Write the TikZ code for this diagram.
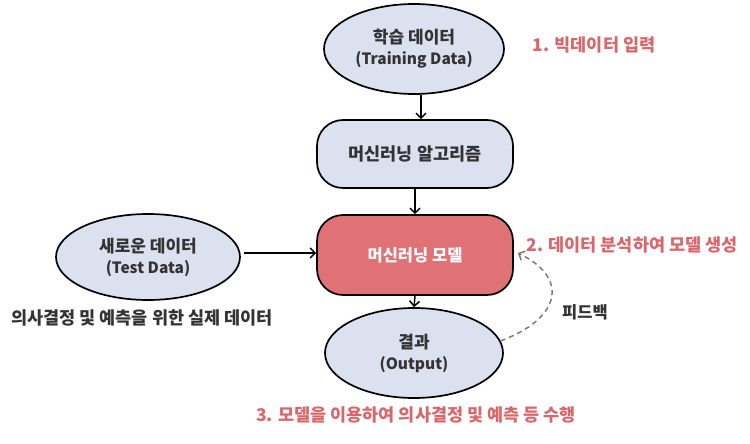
\documentclass[tikz,border=0pt]{standalone}
\usepackage{fontspec}
\setmainfont{Noto Sans CJK KR}
\usetikzlibrary{shapes.geometric,arrows.meta}
\definecolor{nodefill}{HTML}{DCE1F0}
\definecolor{modelred}{HTML}{E07276}
\definecolor{annred}{HTML}{D9666B}
\definecolor{darktext}{HTML}{333333}
\definecolor{fbgray}{HTML}{7A7A7A}
\newcommand{\kor}[1]{{\fontsize{17}{21}\selectfont #1}}
\begin{document}
\begin{tikzpicture}[x=1pt,y=-1pt,
  ell/.style={ellipse,draw=black,line width=1.7pt,fill=nodefill,inner sep=0pt,
    font=\fontsize{15.5}{21}\selectfont\bfseries,text=darktext,align=center},
  rbox/.style={rectangle,rounded corners=26pt,draw=black,line width=1.7pt,inner sep=0pt,
    minimum width=196pt,font=\bfseries,align=center},
  flow/.style={-{Straight Barb[length=5pt,width=10pt,line width=1.5pt]},line width=1.5pt,black},
  fb/.style={-{Straight Barb[length=5pt,width=10pt,line width=1.5pt]},line width=1.5pt,fbgray,dash pattern=on 5pt off 4pt},
  ann/.style={font=\fontsize{17.5}{21}\selectfont\bfseries,text=annred},
  note/.style={font=\fontsize{17.5}{21}\selectfont\bfseries,text=darktext}
]
\useasboundingbox (0,0) rectangle (750,444);
\node[ell,minimum width=180pt,minimum height=90pt] (train) at (414,49) {\kor{학습 데이터}\\(Training Data)};
\node[rbox,fill=nodefill,minimum height=68pt,text=darktext,font=\fontsize{17.5}{21}\selectfont\bfseries] (algo) at (415,154) {머신러닝 알고리즘};
\node[rbox,fill=modelred,minimum height=80pt,text=white,font=\fontsize{16.5}{21}\selectfont\bfseries] (model) at (415,255) {머신러닝 모델};
\node[ell,minimum width=178pt,minimum height=90pt] (out) at (414,353) {\kor{결과}\\(Output)};
\node[ell,minimum width=184pt,minimum height=86pt] (test) at (148,257) {\kor{새로운 데이터}\\(Test Data)};

\draw[flow] (train.south -| 421,0) -- (algo.north -| 421,0);
\draw[flow] (algo.south) -- (model.north);
\draw[flow] (model.south) -- (out.north);
\draw[flow] (test.east) ++(3,-4) coordinate (tstart) -- (tstart -| model.west);
\draw[fb] (out.8) .. controls +(60,-22) and +(52,25) .. ([xshift=4pt,yshift=2pt]model.east);

\node[note] (realdata) at (142,318) {의사결정 및 예측을 위한 실제 데이터};
\node[note,font=\fontsize{16.5}{21}\selectfont\bfseries] (feedback) at (585,312) {피드백};
\node[ann] (a1) at (594,45) {1. 빅데이터 입력};
\node[ann] (a2) at (632,245) {2. 데이터 분석하여 모델 생성};
\node[ann] (a3) at (416,415) {3. 모델을 이용하여 의사결정 및 예측 등 수행};
\end{tikzpicture}
\end{document}
